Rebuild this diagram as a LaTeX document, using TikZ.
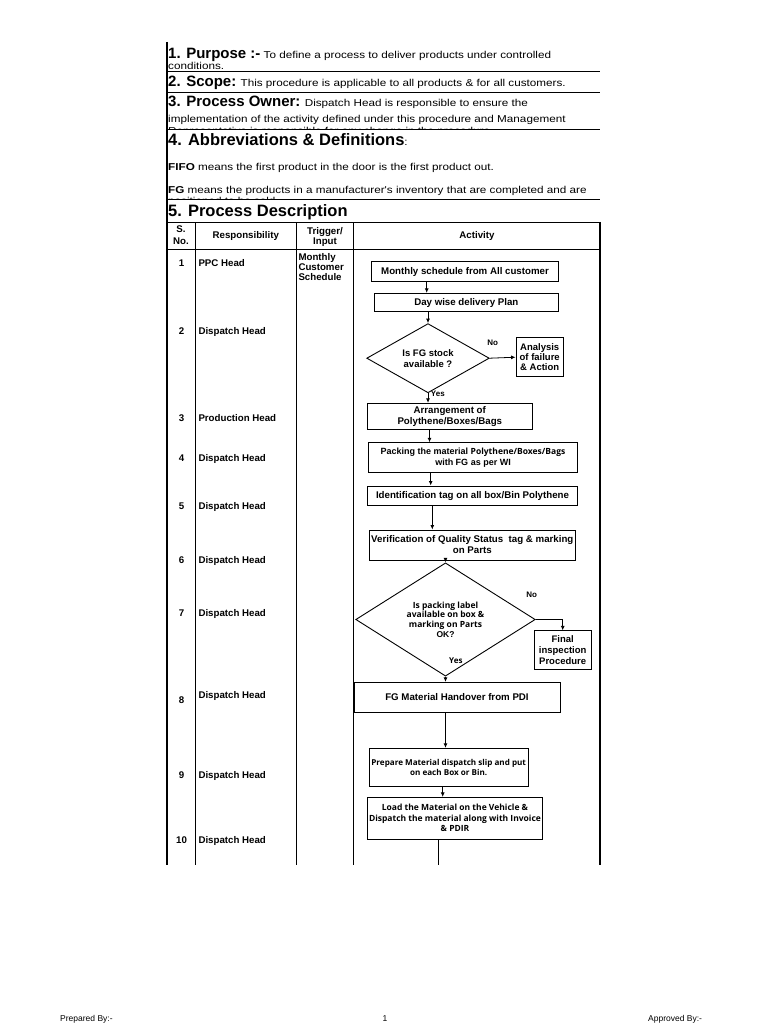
\documentclass[tikz,border=0pt]{standalone}
\usepackage{fontspec}
\setmainfont{Liberation Sans}
\newfontfamily\bodyf[FakeStretch=1.17]{Liberation Sans}
\newfontfamily\osans{Open Sans}
\usetikzlibrary{arrows.meta,shapes.geometric}
\newcommand{\fsz}[1]{\fontsize{#1}{#1}\selectfont}

\begin{document}
\begin{tikzpicture}[x=1pt,y=-1pt,
  txt/.style={anchor=base west,inner sep=0pt,font=\bodyf\fsz{10}},
  hd/.style={anchor=base west,inner sep=0pt,font=\bfseries\fsz{16.5}},
  cell/.style={anchor=base west,inner sep=0pt,font=\bfseries\fsz{9.7}},
  lbl/.style={inner sep=0pt,font=\bfseries\fsz{8}},
  box/.style={draw,line width=0.9pt,inner sep=1pt,align=center,font=\bfseries\fontsize{9.7}{11}\selectfont},
  dec/.style={draw,diamond,line width=0.9pt,inner sep=0pt,align=center,font=\bfseries\fontsize{9.5}{11}\selectfont},
  arr/.style={line width=0.8pt,-{Latex[length=4.5pt,width=4pt]}},
  rule/.style={line width=1pt}]
  \useasboundingbox (0,0) rectangle (768,1024);
  \fill[white] (0,0) rectangle (768,1024);

  % header sections
  \node[txt] (pur) at (168,58.3) {{\rmfamily\bfseries\fsz{15}1. Purpose :-} To define a process to deliver products under controlled};
  \node[txt] (pur2) at (168,69.3) {conditions.};
  \node[txt] (scp) at (168,86.7) {{\rmfamily\bfseries\fsz{15}2. Scope:} This procedure is applicable to all products \& for all customers.};
  \node[txt] (own) at (168,106.5) {{\rmfamily\bfseries\fsz{15}3. Process Owner:} Dispatch Head is responsible to ensure the};
  \node[txt] (own2) at (168,123) {implementation of the activity defined under this procedure and Management};
  \begin{scope}
    \clip (160,120) rectangle (605,129.5);
    \node[txt] (own3) at (168,134.8) {Representative is responsible for any change in the procedure.};
  \end{scope}
  \node[hd] (abb) at (168,146) {4. Abbreviations \& Definitions{\bodyf\mdseries\fsz{10}:}};
  \node[txt] (fifo) at (168,171) {\textbf{FIFO} means the first product in the door is the first product out.};
  \node[txt] (fg) at (168,194) {\textbf{FG} means the products in a manufacturer's inventory that are completed and are};
  \begin{scope}
    \clip (160,190) rectangle (605,199.5);
    \node[txt] (fg2) at (168,204.5) {positioned to be sold.};
  \end{scope}
  \node[hd] (desc) at (168,216.7) {5. Process Description};

  % frame and table rules
  \draw[line width=2pt] (166.5,42) -- (166.5,865);
  \foreach \y in {71.5,92.7,129.5}
    \draw[rule] (167,\y) -- (600,\y);
  \draw[line width=1.8pt] (167,199.5) -- (600,199.5);
  \draw[line width=1.6pt] (167,222.5) -- (600.8,222.5);
  \draw[rule] (167,249.3) -- (600,249.3);
  \draw[line width=1.5pt] (600,222) -- (600,865);
  \foreach \x in {195,296.7,353.5}
    \draw[rule] (\x,222.5) -- (\x,865);

  % table head
  \node[cell,anchor=base] (hs1) at (181,233) {S.};
  \node[cell,anchor=base] (hs2) at (181,244) {No.};
  \node[cell,anchor=base] (hr) at (245.8,239) {Responsibility};
  \node[cell,anchor=base] (ht1) at (325,234.3) {Trigger/};
  \node[cell,anchor=base] (ht2) at (325,244.3) {Input};
  \node[cell,anchor=base] (ha) at (477,239) {Activity};

  % rows
  \foreach \n/\who/\y in {1/PPC Head/266.7, 2/Dispatch Head/334.3, 3/Production Head/421.7,
      4/Dispatch Head/461.7, 5/Dispatch Head/509.3, 6/Dispatch Head/563.3,
      7/Dispatch Head/616.7, 9/Dispatch Head/778.3, 10/Dispatch Head/843.3} {
    \node[cell,anchor=base] (n\n) at (181.5,\y) {\n};
    \node[cell] (r\n) at (198.3,\y) {\who};
  }
  \node[cell,anchor=base] (n8) at (181.5,703.3) {8};
  \node[cell] (r8) at (198.3,698.3) {Dispatch Head};
  \foreach \t/\y [count=\i] in {Monthly/260, Customer/270, Schedule/280}
    \node[cell] (trg\i) at (298.3,\y) {\t};

  % activity flow
  \node[box,minimum width=186.6pt,minimum height=20pt] (mon) at (465,271.7) {Monthly schedule from All customer};
  \node[box,minimum width=184pt,minimum height=18.4pt] (day) at (466.3,302.5) {Day wise delivery Plan};
  \node[dec,minimum width=122.6pt,minimum height=61.7pt] (stk) at (428,358.2) {Is FG stock\\available ?};
  \node[box,minimum width=47.3pt,minimum height=39pt,inner sep=0pt,font=\bfseries\fontsize{9.5}{10.3}\selectfont] (fail) at (539.7,357.2) {Analysis\\of failure\\\& Action};
  \node[box,minimum width=165pt,minimum height=26pt] (arg) at (449.8,416.3) {Arrangement of\\Polythene/Boxes/Bags};
  \node[box,minimum width=209.4pt,minimum height=29.6pt,font=\bfseries\fontsize{9}{10.5}\selectfont] (pack) at (473,457.5)
    {Packing the material {\osans\fsz{8.5}Polythene/Boxes/Bags}\\with FG as per WI};
  \node[box,minimum width=210.4pt,minimum height=19.7pt] (ident) at (472.5,495.8) {Identification tag on all box/Bin Polythene};
  \node[box,minimum width=206.7pt,minimum height=30pt] (verif) at (472.3,545) {Verification of Quality Status\ \ tag \& marking\\on Parts};
  \node[dec,minimum width=179.5pt,minimum height=89pt,font=\osans\bfseries\fontsize{8.5}{9.7}\selectfont] (lab) at (445.5,619.5)
    {Is packing label\\available on box \&\\marking on Parts\\{\rmfamily OK?}};
  \node[box,minimum width=56.7pt,minimum height=38.3pt,inner sep=0pt,font=\bfseries\fontsize{9.5}{10.8}\selectfont] (fin) at (562.7,650) {Final\\inspection\\Procedure};
  \node[box,minimum width=206pt,minimum height=30.3pt] (hand) at (457,697.5) {FG Material Handover from PDI};
  \node[box,minimum width=159.3pt,minimum height=38.4pt,font=\osans\bfseries\fontsize{8.1}{10}\selectfont] (prep) at (448.7,767.5)
    {Prepare Material dispatch slip and put\\on each Box or Bin.};
  \node[box,minimum width=175.4pt,minimum height=41.7pt,font=\osans\bfseries\fontsize{8.5}{10.5}\selectfont] (load) at (455,818.2)
    {Load the Material on the Vehicle \&\\Dispatch the material along with Invoice\\\& PDIR};
  \coordinate (end) at (438.3,865);

  \node[lbl] (no1) at (492.7,342.7) {No};
  \node[lbl,anchor=west] (yes1) at (430.7,394) {Yes};
  \node[lbl] (no2) at (531.7,595) {No};
  \node[lbl,anchor=west,font=\osans\bfseries\fsz{8}] (yes2) at (449,660.7) {Yes};

  \foreach \a/\b/\x in {mon/day/426.7, arg/pack/429.5, pack/ident/430.7, ident/verif/432.3, prep/load/442.7} {
    \coordinate (cx) at (\x,0);
    \draw[arr] (cx |- \a.south) -- (cx |- \b.north);
  }
  \draw[arr] (stk.north |- day.south) -- (stk.north);
  \draw[arr] (stk.east) -- (fail.west);
  \draw[arr] (stk.south) -- (stk.south |- arg.north);
  \draw[arr] (lab.north |- verif.south) -- (lab.north);
  \draw[arr] (lab.east) -| (fin.north);
  \draw[arr] (lab.south) -- (lab.south |- hand.north);
  \draw[arr] (lab.south |- hand.south) -- (lab.south |- prep.north);
  \draw[line width=0.9pt] (end |- load.south) -- (end);

  % footer
  \node[txt,font=\fsz{8.5}] (prp) at (60,1021) {Prepared By:-};
  \node[txt,font=\fsz{8.5},anchor=base] (pg) at (385,1021) {1};
  \node[txt,font=\fsz{8.5}] (apr) at (648,1021) {Approved By:-};
\end{tikzpicture}
\end{document}
